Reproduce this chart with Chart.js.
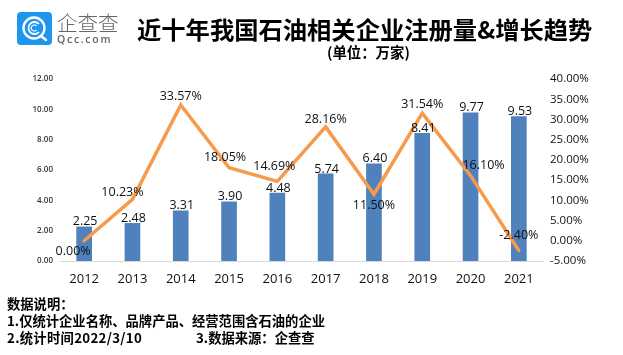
<!DOCTYPE html>
<html>
<head>
<meta charset="utf-8">
<script src="https://cdn.jsdelivr.net/npm/chart.js@4"></script>
<style>
  html, body { margin: 0; padding: 0; background: #fff; }
  body { width: 623px; height: 355px; position: relative; overflow: hidden; font-family: "Noto Sans CJK SC", sans-serif; color: #000; }
  #chart { position: absolute; left: 0; top: 0; }
  .txt { position: absolute; white-space: nowrap; font-weight: 700; line-height: 1; }
  #title { left: 137px; top: 17px; font-size: 24.3px; }
  #unit { left: 327px; top: 45px; font-size: 14.4px; }
  .note { left: 7px; font-size: 13.3px; }
  #logo { position: absolute; left: 17px; top: 12px; }
  #brand { position: absolute; left: 57px; top: 12px; font-size: 20.5px; color: #666; font-weight: 300; line-height: 1; white-space: nowrap; }
  #domain { position: absolute; left: 57px; top: 34px; font-family: "Open Sans", sans-serif; font-weight: 600; font-size: 10.5px; letter-spacing: 1.7px; color: #666; line-height: 1; white-space: nowrap; }
</style>
</head>
<body>
<canvas id="chart" width="623" height="355"></canvas>
<svg id="logo" width="35" height="33" viewBox="0 0 35 33">
  <rect x="0" y="0" width="35" height="33" rx="4" fill="#1e96f0"/>
  <circle cx="17" cy="16" r="10.5" fill="none" stroke="#fff" stroke-width="2.4"/>
  <path d="M22 12 A6 6 0 1 0 22 20" fill="none" stroke="#fff" stroke-width="1.8"/>
  <path d="M19.5 14 A3 3 0 1 0 19.5 18" fill="none" stroke="#fff" stroke-width="1.2"/>
  <path d="M24 24 L29 28" stroke="#fff" stroke-width="2.4" stroke-linecap="round"/>
</svg>
<div id="brand">企查查</div>
<div id="domain">Qcc.com</div>
<div class="txt" id="title">近十年我国石油相关企业注册量&amp;增长趋势</div>
<div class="txt" id="unit">(单位：万家)</div>
<div class="txt note" style="top:297px">数据说明：</div>
<div class="txt note" style="top:314px">1.仅统计企业名称、品牌产品、经营范围含石油的企业</div>
<div class="txt note" style="top:331px;letter-spacing:.3px">2.统计时间2022/3/10</div>
<div class="txt note" style="top:331px;left:196px">3.数据来源：企查查</div>
<script>
const years = ['2012', '2013', '2014', '2015', '2016', '2017', '2018', '2019', '2020', '2021']
const registrations = [2.25, 2.48, 3.31, 3.90, 4.48, 5.74, 6.40, 8.41, 9.77, 9.53]
const growth = [0.00, 10.23, 33.57, 18.05, 14.69, 28.16, 11.50, 31.54, 16.10, -2.40]

// label nudges around the line points, in px, same order as years
const growthNudge = [[-11, 11], [-10, -7], [0, -9], [-4, -10], [-3, -15], [0, -7], [0, 11], [0, -9], [13, -10], [0, -15]]

// Chart.js has no data labels without a plugin, so draw them here
const valueLabels = {
  id: 'valueLabels',
  afterDatasetsDraw(chart) {
    const ctx = chart.ctx
    ctx.save()
    ctx.font = '12.5px "Open Sans"'
    ctx.fillStyle = '#111'
    ctx.textAlign = 'center'
    ctx.textBaseline = 'middle'
    chart.getDatasetMeta(0).data.forEach((bar, i) => {
      ctx.fillText(registrations[i].toFixed(2), bar.x + 1, bar.y - 5)
    })
    chart.getDatasetMeta(1).data.forEach((pt, i) => {
      ctx.fillText(growth[i].toFixed(2) + '%', pt.x + growthNudge[i][0], pt.y + growthNudge[i][1])
    })
    ctx.restore()
  }
}

new Chart(document.getElementById('chart'), {
  type: 'bar',
  plugins: [valueLabels],
  data: {
    labels: years,
    datasets: [
      {
        type: 'bar',
        data: registrations,
        backgroundColor: '#4f81bd',
        barThickness: 15,
        yAxisID: 'y',
        order: 2
      },
      {
        type: 'line',
        data: growth,
        borderColor: '#f79a4b',
        borderWidth: 3.5,
        borderCapStyle: 'round',
        borderJoinStyle: 'miter',
        pointRadius: 0,
        tension: 0,
        yAxisID: 'y1',
        order: 1
      }
    ]
  },
  options: {
    responsive: false,
    animation: false,
    layout: { padding: { top: 79, left: 0, right: 0, bottom: 0 } },
    plugins: { legend: { display: false }, tooltip: { enabled: false } },
    scales: {
      x: {
        grid: { display: false },
        border: { color: '#d9d9d9', width: 1 },
        ticks: { color: '#111', font: { family: 'Open Sans', size: 13 }, padding: 2, maxRotation: 0 },
        afterFit(scale) { scale.height = 94 }
      },
      y: {
        min: 0,
        max: 12,
        grid: { display: false, drawTicks: false },
        border: { display: false },
        ticks: {
          stepSize: 2,
          color: '#333',
          padding: 7,
          font: { family: 'Open Sans', size: 8, weight: '600' },
          callback: v => v.toFixed(2)
        },
        afterFit(scale) { scale.width = 60 }
      },
      y1: {
        position: 'right',
        min: -5,
        max: 40,
        grid: { display: false, drawTicks: false },
        border: { display: false },
        ticks: {
          stepSize: 5,
          color: '#111',
          padding: 7,
          font: { family: 'Open Sans', size: 11.5 },
          callback: v => v.toFixed(2) + '%'
        },
        afterFit(scale) { scale.width = 80 }
      }
    }
  }
})
</script>
</body>
</html>
